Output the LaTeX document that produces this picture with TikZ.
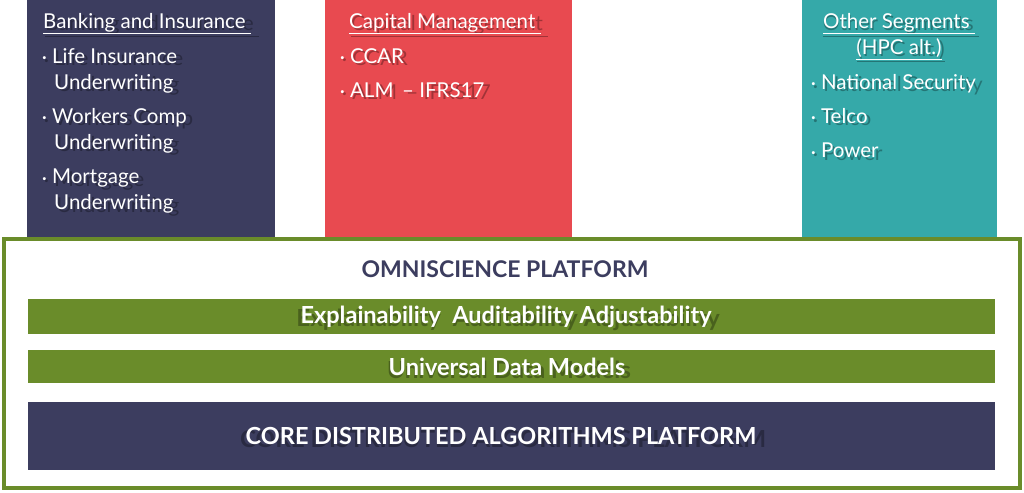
\documentclass[tikz,border=0pt]{standalone}
\usepackage{fontspec}
\setmainfont{Lato}
\definecolor{navy}{HTML}{3C3D5F}
\definecolor{redb}{HTML}{E84A50}
\definecolor{teal}{HTML}{35A9A9}
\definecolor{grn}{HTML}{6A8C2A}
\newcommand{\bul}{\raisebox{0.25ex}{\footnotesize\textbullet}\ }
\tikzset{
 txt/.style={text=white,font=\fontsize{20.5}{26}\selectfont,anchor=north west,align=left,inner sep=0pt},
 bar/.style={text=white,font=\bfseries\fontsize{23.5}{26}\selectfont},
}
\newcommand{\shtext}[4][]{%
 \node[#1,text=black,text opacity=0.3,xscale=1.03,transform shape] at ([xshift=2pt,yshift=-2.5pt]#2) {#4};
 \node[#1] (#3) at (#2) {#4};}
\begin{document}
\begin{tikzpicture}[x=1pt,y=-1pt]
\useasboundingbox (0,0) rectangle (1024,492);
\fill[navy] (27,0) rectangle (275,240);
\fill[redb] (325,0) rectangle (572,240);
\fill[teal] (802,0) rectangle (997,240);
\draw[grn,line width=4pt,fill=white] (4,239) rectangle (1020,488);
\fill[grn] (28,299) rectangle (995,334);
\fill[grn] (28,350) rectangle (995,383);
\fill[navy] (28,402) rectangle (995,470);
\shtext[txt]{43,13}{b0}{\underline{Banking and Insurance }}
\shtext[txt]{42,48}{b1}{\bul Life Insurance\\\hspace{12pt}Underwriting}
\shtext[txt]{42,108}{b2}{\bul Workers Comp\\\hspace{12pt}Underwriting}
\shtext[txt]{42,169}{b3}{\bul Mortgage\\\hspace{12pt}Underwriting}
\shtext[txt]{349,13}{c0}{\underline{Capital Management }}
\shtext[txt]{340,48}{c1}{\bul CCAR}
\shtext[txt]{340,82}{c2}{\bul ALM \,-- IFRS17}
\shtext[txt,anchor=north,align=center]{899,13}{o0}{\underline{Other Segments }\\\underline{(HPC alt.)}}
\shtext[txt]{811,74}{o1}{\bul National Security}
\shtext[txt]{811,108}{o2}{\bul Telco}
\shtext[txt]{811,143}{o3}{\bul Power}
\node[text=navy,font=\bfseries\fontsize{23}{26}\selectfont] (p0) at (505,269) {OMNISCIENCE PLATFORM};
\shtext[bar]{506,317}{p1}{Explainability\ \ Auditability Adjustability}
\shtext[bar]{507,367}{p2}{Universal Data Models}
\shtext[bar]{501,436}{p3}{CORE DISTRIBUTED ALGORITHMS PLATFORM}
\end{tikzpicture}
\end{document}
